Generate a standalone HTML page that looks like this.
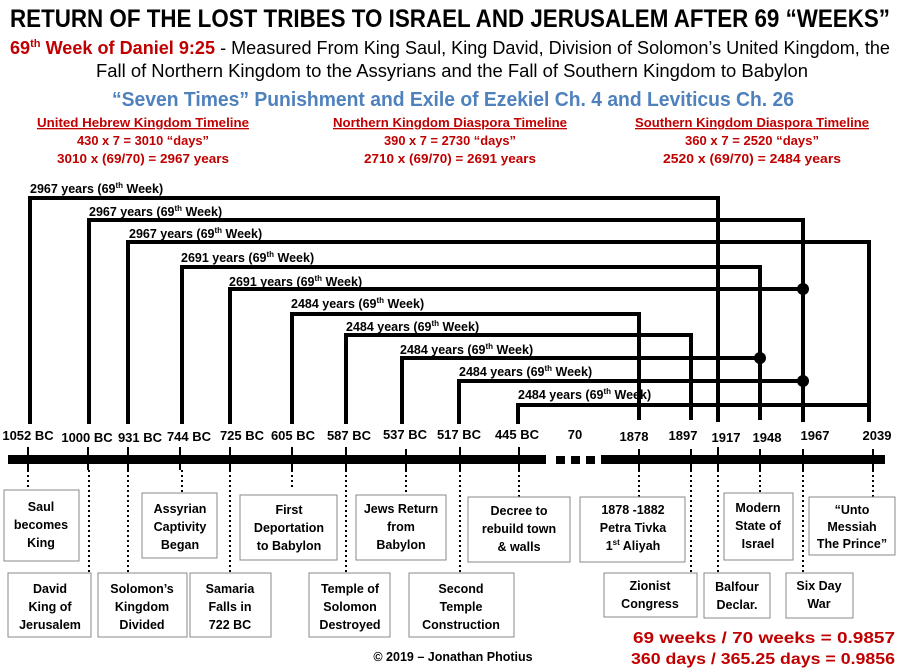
<!DOCTYPE html>
<html><head><meta charset="utf-8"><style>
body{margin:0;background:#fff;}
svg{display:block;font-family:"Liberation Sans Narrow","Liberation Sans",sans-serif;}
.b{font-weight:bold;}
</style></head><body>
<svg width="900" height="671" viewBox="0 0 900 671" xmlns="http://www.w3.org/2000/svg">
<rect width="900" height="671" fill="#fff"/>
<!-- header -->
<text x="450" y="27" text-anchor="middle" font-size="25" class="b" textLength="880" lengthAdjust="spacingAndGlyphs">RETURN OF THE LOST TRIBES TO ISRAEL AND JERUSALEM AFTER 69 “WEEKS”</text>
<text x="10" y="54" font-size="18" textLength="880" lengthAdjust="spacingAndGlyphs"><tspan fill="#c00000" class="b">69<tspan font-size="11" dy="-7">th</tspan><tspan dy="7"> Week of Daniel 9:25</tspan></tspan> - Measured From King Saul, King David, Division of Solomon’s United Kingdom, the</text>
<text x="452" y="77" text-anchor="middle" font-size="18" textLength="712" lengthAdjust="spacingAndGlyphs">Fall of Northern Kingdom to the Assyrians and the Fall of Southern Kingdom to Babylon</text>
<text x="453" y="106" text-anchor="middle" font-size="20" class="b" fill="#4f81bd" textLength="682" lengthAdjust="spacingAndGlyphs">“Seven Times” Punishment and Exile of Ezekiel Ch. 4 and Leviticus Ch. 26</text>
<g fill="#c00000" class="b" font-size="13" text-anchor="middle">
<text x="143" y="127" text-decoration="underline" textLength="212" lengthAdjust="spacingAndGlyphs">United Hebrew Kingdom Timeline</text>
<text x="143" y="145" textLength="132" lengthAdjust="spacingAndGlyphs">430 x 7 = 3010 “days”</text>
<text x="143" y="163" textLength="172" lengthAdjust="spacingAndGlyphs">3010 x (69/70) = 2967 years</text>
<text x="450" y="127" text-decoration="underline" textLength="234" lengthAdjust="spacingAndGlyphs">Northern Kingdom Diaspora Timeline</text>
<text x="450" y="145" textLength="132" lengthAdjust="spacingAndGlyphs">390 x 7 = 2730 “days”</text>
<text x="450" y="163" textLength="172" lengthAdjust="spacingAndGlyphs">2710 x (69/70) = 2691 years</text>
<text x="752" y="127" text-decoration="underline" textLength="234" lengthAdjust="spacingAndGlyphs">Southern Kingdom Diaspora Timeline</text>
<text x="752" y="145" textLength="134" lengthAdjust="spacingAndGlyphs">360 x 7 = 2520 “days”</text>
<text x="752" y="163" textLength="178" lengthAdjust="spacingAndGlyphs">2520 x (69/70) =  2484 years</text>
</g>
<!-- brackets -->
<g fill="none" stroke="#000" stroke-width="4">
<polyline points="30,424 30,198 718,198 718,422"/>
<polyline points="89,424 89,220 803,220 803,422"/>
<polyline points="128,424 128,242 869,242 869,422"/>
<polyline points="182,424 182,267 760,267 760,420"/>
<polyline points="230,424 230,289 803,289"/>
<polyline points="292,424 292,314 639,314 639,420"/>
<polyline points="346,424 346,335 691,335 691,420"/>
<polyline points="402,424 402,358 760,358"/>
<polyline points="459,424 459,381 803,381"/>
<polyline points="518,424 518,405 869,405"/>
</g>
<g fill="#000"><circle cx="803" cy="289" r="6"/><circle cx="760" cy="358" r="6"/><circle cx="803" cy="381" r="6"/></g>
<g class="b" font-size="12.5">
<text x="30" y="193">2967 years (69<tspan font-size="8" dy="-5">th</tspan><tspan dy="5"> Week)</tspan></text>
<text x="89" y="216">2967 years (69<tspan font-size="8" dy="-5">th</tspan><tspan dy="5"> Week)</tspan></text>
<text x="129" y="238">2967 years (69<tspan font-size="8" dy="-5">th</tspan><tspan dy="5"> Week)</tspan></text>
<text x="181" y="262">2691 years (69<tspan font-size="8" dy="-5">th</tspan><tspan dy="5"> Week)</tspan></text>
<text x="229" y="286">2691 years (69<tspan font-size="8" dy="-5">th</tspan><tspan dy="5"> Week)</tspan></text>
<text x="291" y="308">2484 years (69<tspan font-size="8" dy="-5">th</tspan><tspan dy="5"> Week)</tspan></text>
<text x="346" y="331">2484 years (69<tspan font-size="8" dy="-5">th</tspan><tspan dy="5"> Week)</tspan></text>
<text x="400" y="354">2484 years (69<tspan font-size="8" dy="-5">th</tspan><tspan dy="5"> Week)</tspan></text>
<text x="459" y="376">2484 years (69<tspan font-size="8" dy="-5">th</tspan><tspan dy="5"> Week)</tspan></text>
<text x="518" y="399">2484 years (69<tspan font-size="8" dy="-5">th</tspan><tspan dy="5"> Week)</tspan></text>
</g>
<!-- axis labels -->
<g class="b" font-size="13" text-anchor="middle">
<text x="28" y="440">1052 BC</text><text x="87" y="442">1000 BC</text><text x="140" y="442">931 BC</text>
<text x="189" y="441">744 BC</text><text x="242" y="440">725 BC</text><text x="293" y="440">605 BC</text>
<text x="349" y="440">587 BC</text><text x="405" y="439">537 BC</text><text x="459" y="439">517 BC</text>
<text x="517" y="439">445 BC</text><text x="575" y="439">70</text>
<text x="634" y="441">1878</text><text x="683" y="440">1897</text><text x="726" y="442">1917</text>
<text x="767" y="442">1948</text><text x="815" y="440">1967</text><text x="877" y="440">2039</text>
</g>
<!-- timeline bar -->
<rect x="8" y="455" width="538" height="9" fill="#000"/>
<rect x="556" y="456" width="9" height="8" fill="#000"/><rect x="571" y="456" width="9" height="8" fill="#000"/><rect x="586" y="456" width="9" height="8" fill="#000"/>
<rect x="601" y="455" width="284" height="9" fill="#000"/>
<g stroke="#000" stroke-width="2">
<path d="M28 447V470M88 447V470M128 447V470M180 447V470M230 447V470M292 447V470M346 447V470M406 449V470M460 447V470M519 447V470M639 449V470M691 449V470M718 447V470M760 449V470M803 449V470M873 449V470"/>
</g>
<g stroke="#000" stroke-width="2" stroke-dasharray="2,3" fill="none">
<path d="M28 470V490M89 470V573M128 470V573M182 470V493M230 470V573M292 470V490M346 470V573M406 470V495M460 470V573M519 470V497M639 470V497M691 470V573M718 470V573M760 470V493M803 470V573M873 470V497"/>
</g>
<!-- boxes -->
<g fill="#fff" stroke="#888" stroke-width="1">
<rect x="4" y="490" width="75" height="71"/>
<rect x="142" y="493" width="75" height="65"/>
<rect x="240" y="495" width="97" height="65"/>
<rect x="356" y="495" width="90" height="65"/>
<rect x="468" y="497" width="102" height="65"/>
<rect x="580" y="497" width="105" height="65"/>
<rect x="724" y="493" width="69" height="67"/>
<rect x="809" y="497" width="86" height="58"/>
<rect x="8" y="573" width="83" height="64"/>
<rect x="98" y="573" width="89" height="64"/>
<rect x="190" y="573" width="81" height="64"/>
<rect x="309" y="573" width="81" height="64"/>
<rect x="409" y="573" width="105" height="64"/>
<rect x="604" y="573" width="93" height="44"/>
<rect x="704" y="573" width="66" height="45"/>
<rect x="786" y="573" width="67" height="45"/>
</g>
<g class="b" font-size="12.5" text-anchor="middle">
<text x="41" y="511">Saul</text><text x="41" y="529">becomes</text><text x="41" y="547">King</text>
<text x="180" y="513">Assyrian</text><text x="180" y="531">Captivity</text><text x="180" y="549">Began</text>
<text x="289" y="514">First</text><text x="289" y="532">Deportation</text><text x="289" y="550">to Babylon</text>
<text x="401" y="513">Jews Return</text><text x="401" y="531">from</text><text x="401" y="549">Babylon</text>
<text x="519" y="515">Decree to</text><text x="519" y="533">rebuild town</text><text x="519" y="551">&amp; walls</text>
<text x="633" y="514">1878 -1882</text><text x="633" y="532">Petra Tivka</text><text x="633" y="550">1<tspan font-size="8" dy="-5">st</tspan><tspan dy="5"> Aliyah</tspan></text>
<text x="758" y="512">Modern</text><text x="758" y="530">State of</text><text x="758" y="548">Israel</text>
<text x="852" y="514">“Unto</text><text x="852" y="531">Messiah</text><text x="852" y="548">The Prince”</text>
<text x="50" y="593">David</text><text x="50" y="611">King of</text><text x="50" y="629">Jerusalem</text>
<text x="142" y="593">Solomon’s</text><text x="142" y="611">Kingdom</text><text x="142" y="629">Divided</text>
<text x="230" y="593">Samaria</text><text x="230" y="611">Falls in</text><text x="230" y="629">722 BC</text>
<text x="350" y="593">Temple of</text><text x="350" y="611">Solomon</text><text x="350" y="629">Destroyed</text>
<text x="461" y="593">Second</text><text x="461" y="611">Temple</text><text x="461" y="629">Construction</text>
<text x="650" y="590">Zionist</text><text x="650" y="608">Congress</text>
<text x="737" y="591">Balfour</text><text x="737" y="609">Declar.</text>
<text x="819" y="590">Six Day</text><text x="819" y="608">War</text>
</g>
<text x="453" y="661" text-anchor="middle" font-size="12.5" class="b">© 2019 – Jonathan Photius</text>
<g fill="#c00000" class="b" font-size="16" text-anchor="end">
<text x="895" y="643" textLength="262" lengthAdjust="spacingAndGlyphs">69 weeks / 70 weeks = 0.9857</text>
<text x="895" y="664" textLength="264" lengthAdjust="spacingAndGlyphs">360 days / 365.25 days = 0.9856</text>
</g>
</svg>
</body></html>
